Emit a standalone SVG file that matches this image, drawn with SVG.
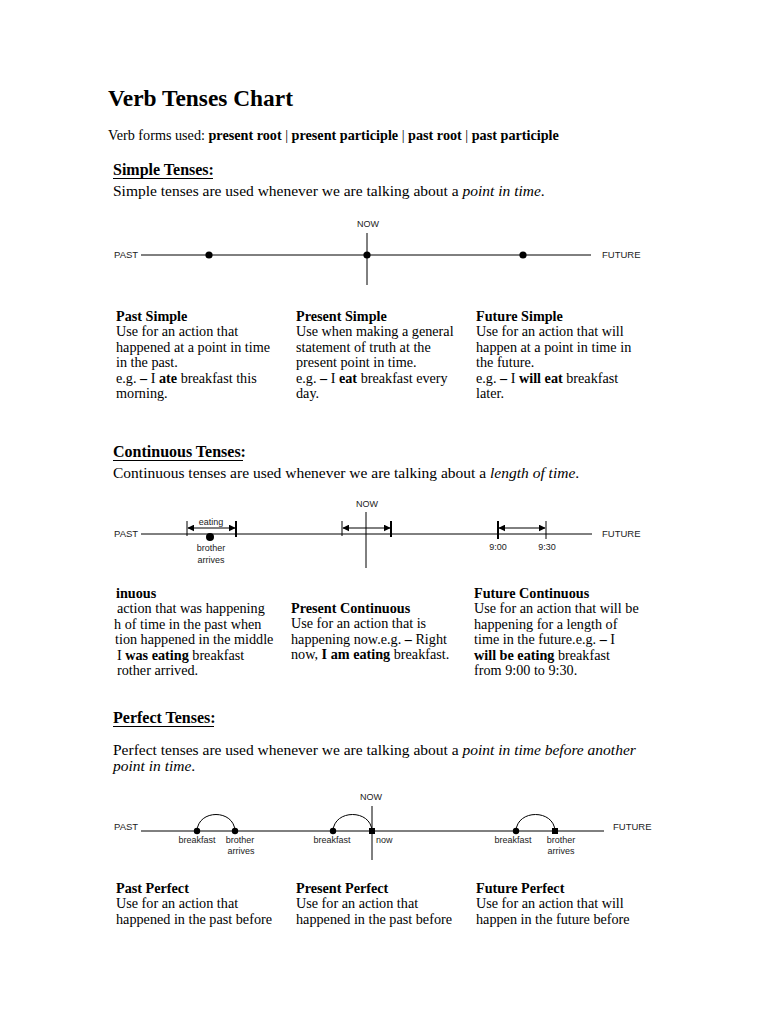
<svg xmlns="http://www.w3.org/2000/svg" width="768" height="1024" viewBox="0 0 768 1024">
<style>
.t{font-family:"Liberation Serif","Times New Roman",serif;font-size:14.2px;fill:#000}
.d{font-family:"Liberation Serif","Times New Roman",serif;font-size:15.5px;fill:#000}
.h{font-family:"Liberation Serif","Times New Roman",serif;font-size:16px;font-weight:bold;fill:#000}
.ttl{font-family:"Liberation Serif","Times New Roman",serif;font-size:23.4px;font-weight:bold;fill:#000}
.s{font-family:"Liberation Sans",Arial,sans-serif;font-size:9px;fill:#222}
.s2{font-family:"Liberation Sans",Arial,sans-serif;font-size:9.5px;fill:#222}
.b{font-weight:bold}
.i{font-style:italic}
.ln{stroke:#000;stroke-width:1;fill:none}
.tk{stroke:#000;stroke-width:1;fill:none}
.tkb{stroke:#000;stroke-width:2;fill:none}
.ul{stroke:#000;stroke-width:1.2}
</style>
<defs>
<marker id="ah" viewBox="0 0 10 10" refX="9" refY="5" markerWidth="7" markerHeight="7" markerUnits="userSpaceOnUse" orient="auto-start-reverse">
<path d="M0,0 L10,5 L0,10 Z" fill="#000"/>
</marker>
</defs>
<rect width="768" height="1024" fill="#fff"/>

<g id="header">
<text class="ttl" x="108" y="106">Verb Tenses Chart</text>
<text class="t" x="108" y="140" font-size="14.45">Verb forms used: <tspan class="b">present root</tspan> | <tspan class="b">present participle</tspan> | <tspan class="b">past root</tspan> | <tspan class="b">past participle</tspan></text>
</g>

<g id="simple-heading">
<text class="h" x="113" y="175">Simple Tenses:</text>
<line class="ul" x1="113" y1="178.5" x2="213" y2="178.5"/>
<text class="d" x="113" y="196">Simple tenses are used whenever we are talking about a <tspan class="i">point in time</tspan>.</text>
</g>

<g id="timeline-simple">
<text class="s2" x="114" y="258">PAST</text>
<text class="s2" x="602" y="258">FUTURE</text>
<text class="s" x="357" y="227">NOW</text>
<line class="ln" x1="141" y1="255" x2="591" y2="255"/>
<line class="ln" x1="367" y1="233" x2="367" y2="285"/>
<circle cx="209" cy="255" r="3.6"/>
<circle cx="367" cy="255" r="3.6"/>
<circle cx="523" cy="255" r="3.6"/>
</g>

<g id="past-simple">
<text class="t" x="116" y="321"><tspan class="b">Past Simple</tspan><tspan x="116" dy="15.4">Use for an action that</tspan><tspan x="116" dy="15.4">happened at a point in time</tspan><tspan x="116" dy="15.4">in the past.</tspan><tspan x="116" dy="15.4">e.g. <tspan class="b">–</tspan> I <tspan class="b">ate</tspan> breakfast this</tspan><tspan x="116" dy="15.4">morning.</tspan></text>
</g>
<g id="present-simple">
<text class="t" x="296" y="321"><tspan class="b">Present Simple</tspan><tspan x="296" dy="15.4">Use when making a general</tspan><tspan x="296" dy="15.4">statement of truth at the</tspan><tspan x="296" dy="15.4">present point in time.</tspan><tspan x="296" dy="15.4">e.g. <tspan class="b">–</tspan> I <tspan class="b">eat</tspan> breakfast every</tspan><tspan x="296" dy="15.4">day.</tspan></text>
</g>
<g id="future-simple">
<text class="t" x="476" y="321"><tspan class="b">Future Simple</tspan><tspan x="476" dy="15.4">Use for an action that will</tspan><tspan x="476" dy="15.4">happen at a point in time in</tspan><tspan x="476" dy="15.4">the future.</tspan><tspan x="476" dy="15.4">e.g. <tspan class="b">–</tspan> I <tspan class="b">will eat</tspan> breakfast</tspan><tspan x="476" dy="15.4">later.</tspan></text>
</g>

<g id="continuous-heading">
<text class="h" x="113" y="457">Continuous Tenses:</text>
<line class="ul" x1="113" y1="460.5" x2="243" y2="460.5"/>
<text class="d" x="113" y="478">Continuous tenses are used whenever we are talking about a <tspan class="i">length of time</tspan>.</text>
</g>

<g id="timeline-continuous">
<text class="s2" x="114" y="537">PAST</text>
<text class="s2" x="602" y="537">FUTURE</text>
<text class="s" x="356" y="507">NOW</text>
<line class="ln" x1="141" y1="534" x2="592" y2="534"/>
<line class="ln" x1="366" y1="512" x2="366" y2="568"/>
<line class="tk" x1="187" y1="521" x2="187" y2="536"/>
<line class="tkb" x1="236" y1="521" x2="236" y2="537"/>
<line class="ln" x1="188" y1="528" x2="235" y2="528" marker-start="url(#ah)" marker-end="url(#ah)"/>
<text class="s" x="211" y="525" text-anchor="middle">eating</text>
<circle cx="210" cy="537" r="4"/>
<text class="s" x="211" y="551" text-anchor="middle">brother</text>
<text class="s" x="211" y="563" text-anchor="middle">arrives</text>
<line class="tk" x1="342" y1="521" x2="342" y2="536"/>
<line class="tkb" x1="391" y1="521" x2="391" y2="537"/>
<line class="ln" x1="343" y1="528" x2="390" y2="528" marker-start="url(#ah)" marker-end="url(#ah)"/>
<line class="tkb" x1="498" y1="521" x2="498" y2="539"/>
<line class="tk" x1="546" y1="521" x2="546" y2="539"/>
<line class="ln" x1="499" y1="528" x2="545" y2="528" marker-start="url(#ah)" marker-end="url(#ah)"/>
<text class="s" x="498" y="550" text-anchor="middle">9:00</text>
<text class="s" x="547" y="550" text-anchor="middle">9:30</text>
</g>

<g id="past-continuous">
<text class="t b" x="116" y="598">inuous</text>
<text class="t" x="117" y="613">action that was happening</text>
<text class="t" x="114" y="629">h of time in the past when</text>
<text class="t" x="115" y="644">tion happened in the middle</text>
<text class="t" x="117" y="660">I <tspan class="b">was eating</tspan> breakfast</text>
<text class="t" x="117" y="675">rother arrived.</text>
</g>
<g id="present-continuous">
<text class="t" x="291" y="613"><tspan class="b">Present Continuous</tspan><tspan x="291" dy="15.4">Use for an action that is</tspan><tspan x="291" dy="15.4">happening now.e.g. <tspan class="b">–</tspan> Right</tspan><tspan x="291" dy="15.4">now, <tspan class="b">I am eating</tspan> breakfast.</tspan></text>
</g>
<g id="future-continuous">
<text class="t" x="474" y="598"><tspan class="b">Future Continuous</tspan><tspan x="474" dy="15.4">Use for an action that will be</tspan><tspan x="474" dy="15.4">happening for a length of</tspan><tspan x="474" dy="15.4">time in the future.e.g. <tspan class="b">–</tspan> I</tspan><tspan x="474" dy="15.4" class="b">will be eating</tspan><tspan> breakfast</tspan><tspan x="474" dy="15.4">from 9:00 to 9:30.</tspan></text>
</g>

<g id="perfect-heading">
<text class="h" x="113" y="723">Perfect Tenses:</text>
<line class="ul" x1="113" y1="726.5" x2="214" y2="726.5"/>
<text class="d" x="113" y="755">Perfect tenses are used whenever we are talking about a <tspan class="i">point in time before another</tspan></text>
<text class="d i" x="113" y="771">point in time<tspan font-style="normal">.</tspan></text>
</g>

<g id="timeline-perfect">
<text class="s2" x="114" y="830">PAST</text>
<text class="s2" x="613" y="830">FUTURE</text>
<text class="s" x="360" y="800">NOW</text>
<line class="ln" x1="141" y1="831" x2="604" y2="831"/>
<line class="ln" x1="372" y1="806" x2="372" y2="860"/>
<path class="ln" d="M197,831 C198,809 234,809 235,831"/>
<circle cx="197" cy="831" r="3.2"/>
<circle cx="235" cy="831" r="3.2"/>
<text class="s" x="197" y="843" text-anchor="middle">breakfast</text>
<text class="s" x="240" y="843" text-anchor="middle">brother</text>
<text class="s" x="241" y="854" text-anchor="middle">arrives</text>
<path class="ln" d="M333,831 C334,809 371,809 372,831"/>
<circle cx="333" cy="831" r="3.2"/>
<rect x="369" y="828" width="6" height="6"/>
<text class="s" x="332" y="843" text-anchor="middle">breakfast</text>
<text class="s" x="376" y="843">now</text>
<path class="ln" d="M516,831 C517,809 554,809 555,831"/>
<circle cx="516" cy="831" r="3.2"/>
<rect x="552" y="828" width="6" height="6"/>
<text class="s" x="513" y="843" text-anchor="middle">breakfast</text>
<text class="s" x="561" y="843" text-anchor="middle">brother</text>
<text class="s" x="561" y="854" text-anchor="middle">arrives</text>
</g>

<g id="past-perfect">
<text class="t" x="116" y="893"><tspan class="b">Past Perfect</tspan><tspan x="116" dy="15.4">Use for an action that</tspan><tspan x="116" dy="15.4">happened in the past before</tspan></text>
</g>
<g id="present-perfect">
<text class="t" x="296" y="893"><tspan class="b">Present Perfect</tspan><tspan x="296" dy="15.4">Use for an action that</tspan><tspan x="296" dy="15.4">happened in the past before</tspan></text>
</g>
<g id="future-perfect">
<text class="t" x="476" y="893"><tspan class="b">Future Perfect</tspan><tspan x="476" dy="15.4">Use for an action that will</tspan><tspan x="476" dy="15.4">happen in the future before</tspan></text>
</g>
</svg>
